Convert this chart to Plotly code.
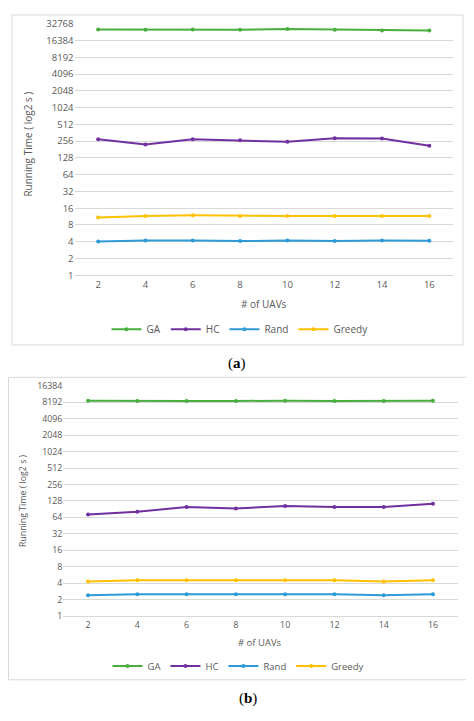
import plotly.graph_objects as go

W, H = 474, 721
OFF = 8  # page body margin

uavs = [2, 4, 6, 8, 10, 12, 14, 16]

# (a) running times, seconds
ga_a = [25980, 25660, 25980, 25660, 26420, 25660, 24950, 24950]
hc_a = [278, 224, 278, 267, 249, 289, 286, 211]
rand_a = [4.05, 4.2, 4.2, 4.1, 4.2, 4.1, 4.2, 4.15]
greedy_a = [10.9, 11.6, 11.9, 11.6, 11.6, 11.6, 11.6, 11.6]

# (b) running times, seconds
ga_b = [8800, 8650, 8650, 8650, 8800, 8650, 8650, 8800]
hc_b = [72, 81, 99, 93, 103, 99, 99, 114]
rand_b = [2.4, 2.5, 2.5, 2.5, 2.5, 2.5, 2.4, 2.5]
greedy_b = [4.3, 4.5, 4.5, 4.5, 4.5, 4.5, 4.3, 4.5]

ticks_a = [2 ** k for k in range(0, 16)]
ticks_b = [2 ** k for k in range(0, 15)]

names = ["GA", "HC", "Rand", "Greedy"]
colors = ["#4AAE3F", "#7030A0", "#2E9AD8", "#FFC000"]

FONT = "Open Sans"
GRAY = "#595959"
GRID = "#D9D9D9"


def px_x(x):
    return (x - OFF) / W


def px_y(y):
    return 1 - (y - OFF) / H


fig = go.Figure()

series_a = [ga_a, hc_a, rand_a, greedy_a]
series_b = [ga_b, hc_b, rand_b, greedy_b]

for name, color, vals in zip(names, colors, series_a):
    fig.add_trace(go.Scatter(
        x=uavs, y=vals, name=name, mode="lines+markers",
        line=dict(color=color, width=2), marker=dict(size=4, color=color),
        xaxis="x", yaxis="y", legend="legend",
    ))

for name, color, vals in zip(names, colors, series_b):
    fig.add_trace(go.Scatter(
        x=uavs, y=vals, name=name, mode="lines+markers",
        line=dict(color=color, width=2), marker=dict(size=4, color=color),
        xaxis="x2", yaxis="y2", legend="legend2",
    ))

font_a = dict(family=FONT, size=9.5, color=GRAY)
font_b = dict(family=FONT, size=8.8, color=GRAY)

xcommon = dict(
    range=[1, 17], tickvals=uavs, showgrid=False, zeroline=False,
    showline=True, linecolor=GRID, linewidth=1, ticks="",
)
ycommon = dict(
    type="log", showgrid=True, gridcolor=GRID, gridwidth=1, zeroline=False,
    showline=False, ticks="",
)

fig.update_layout(
    width=W, height=H,
    margin=dict(l=0, r=0, t=0, b=0),
    paper_bgcolor="white", plot_bgcolor="white",
    xaxis=dict(xcommon, domain=[px_x(74.5), px_x(453)], anchor="y",
               tickfont=font_a),
    yaxis=dict(ycommon, domain=[px_y(273), px_y(17)], anchor="x",
               range=[0, 15 * 0.30103], tickvals=ticks_a,
               ticktext=[str(t) for t in ticks_a], tickfont=font_a),
    xaxis2=dict(xcommon, domain=[px_x(63.4), px_x(457.6)], anchor="y2",
                tickfont=font_b),
    yaxis2=dict(ycommon, domain=[px_y(620), px_y(385.7)], anchor="x2",
                range=[0, 14 * 0.30103], tickvals=ticks_b,
                ticktext=[str(t) for t in ticks_b], tickfont=font_b),
    legend=dict(orientation="h", x=px_x(240), xanchor="center", y=px_y(328),
                yanchor="middle", font=dict(family=FONT, size=10, color=GRAY),
                itemwidth=30, bgcolor="rgba(0,0,0,0)"),
    legend2=dict(orientation="h", x=px_x(238), xanchor="center", y=px_y(671),
                 yanchor="middle", font=dict(family=FONT, size=9.5, color=GRAY),
                 itemwidth=30, bgcolor="rgba(0,0,0,0)"),
    showlegend=True,
)

# chart frames
for x0, y0, x1, y1 in [(12, 8, 463, 344), (8.5, 377, 468, 685)]:
    fig.add_shape(type="rect", xref="paper", yref="paper",
                  x0=px_x(x0), x1=px_x(x1), y0=px_y(y1), y1=px_y(y0),
                  line=dict(color=GRID, width=1), layer="below")

annos = [
    (28, 140, "Running Time ( log2 s )", -90, dict(family=FONT, size=10, color=GRAY)),
    (23, 503, "Running Time ( log2 s )", -90, dict(family=FONT, size=8.8, color=GRAY)),
    (264, 302, "# of UAVs", 0, dict(family=FONT, size=10, color=GRAY)),
    (260, 647, "# of UAVs", 0, dict(family=FONT, size=9.5, color=GRAY)),
    (237, 363, "(<b>a</b>)", 0, dict(family="Liberation Serif", size=15, color="black")),
    (248, 704, "(<b>b</b>)", 0, dict(family="Liberation Serif", size=15, color="black")),
]
for x, y, text, ang, font in annos:
    fig.add_annotation(x=px_x(x), y=px_y(y), xref="paper", yref="paper",
                       text=text, showarrow=False, textangle=ang, font=font,
                       xanchor="center", yanchor="middle")

fig.write_html("out.html")
